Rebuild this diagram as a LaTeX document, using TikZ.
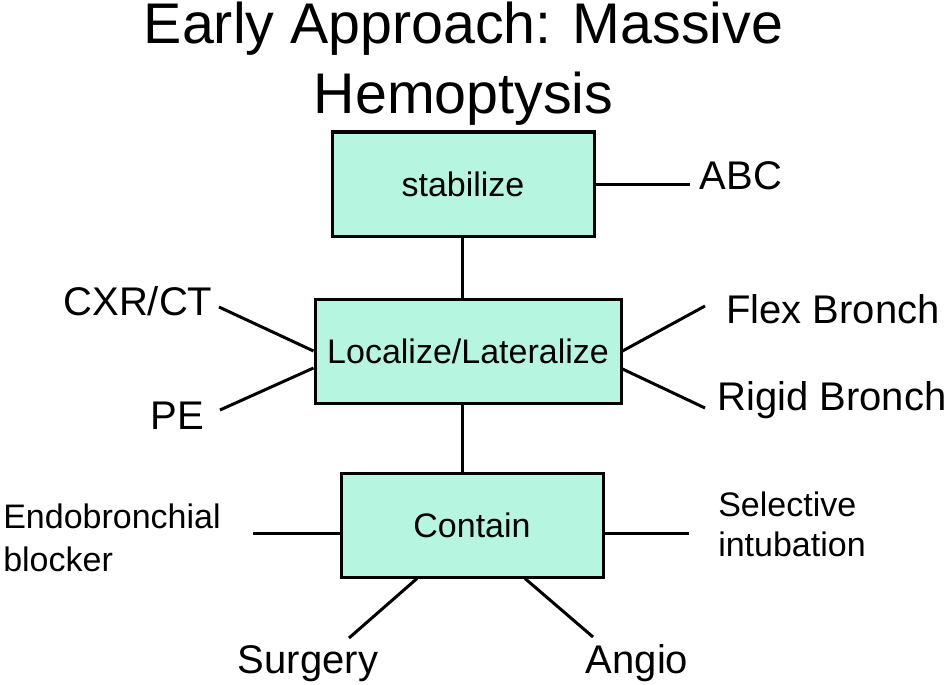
\documentclass[tikz,border=0pt]{standalone}
\usepackage{fontspec}
\setmainfont{Liberation Sans}
\usetikzlibrary{calc}
\definecolor{boxfill}{RGB}{182,245,224}
\begin{document}
\begin{tikzpicture}[x=0.75pt,y=-0.75pt,
  boxstyle/.style={draw=black, line width=2.25pt, fill=boxfill, minimum height=78pt, inner sep=0pt, font=\fontsize{25.5}{30}\selectfont},
  conn/.style={line width=2.25pt},
  lbl/.style={font=\fontsize{30}{36}\selectfont, inner sep=0pt, anchor=base},
  small/.style={font=\fontsize{25.5}{32}\selectfont, inner sep=0pt, align=left, anchor=north west},
  title/.style={font=\fontsize{43}{52}\selectfont, inner sep=0pt, align=center, anchor=north}]
\useasboundingbox (0,0) rectangle (950,685);
\node[title] (ttl) at (463.5,2) {Early Approach: Massive\\Hemoptysis};
\node[boxstyle, minimum width=196.5pt] (stab) at (463,184) {stabilize};
\node[boxstyle, minimum width=229.5pt] (loc) at (468,351) {Localize/Lateralize};
\node[boxstyle, minimum width=196.5pt] (cont) at (472,525) {Contain};
\node[lbl] (abc) at (741,189) {ABC};
\node[lbl] (cxr) at (138,315) {CXR/CT};
\node[lbl] (pe) at (177,429) {PE};
\node[lbl] (flex) at (833,323) {Flex Bronch};
\node[lbl] (rigid) at (832,410) {Rigid Bronch};
\node[lbl] (surg) at (308,673) {Surgery};
\node[lbl] (angio) at (637,673) {Angio};
\node[small] (endo) at (3,504) {Endobronchial\\blocker};
\node[small, font=\fontsize{25.5}{30}\selectfont] (sel) at (718,492) {Selective\\intubation};
\coordinate (eABC) at (690,184);
\coordinate (eCXR) at (219,307);
\coordinate (ePE) at (220,410);
\coordinate (eFlex) at (705,306);
\coordinate (eRigid) at (705,408);
\coordinate (eEndo) at (253,533);
\coordinate (eSel) at (689,533);
\coordinate (eSurg) at (349,638);
\coordinate (eAng) at (593,637);
\draw[conn] (stab.south -| 462,0) -- (loc.north -| 462,0);
\draw[conn] (loc.south -| 462,0) -- (cont.north -| 462,0);
\draw[conn] (stab.east) -- (eABC);
\draw[conn] (eCXR) -- (loc.west);
\draw[conn] (ePE) -- ($(loc.west)+(0,17)$);
\draw[conn] (loc.east) -- (eFlex);
\draw[conn] ($(loc.east)+(0,18)$) -- (eRigid);
\draw[conn] (eEndo) -- ($(cont.west)+(0,8)$);
\draw[conn] ($(cont.east)+(0,8)$) -- (eSel);
\draw[conn] ($(cont.south)+(-55,0)$) -- (eSurg);
\draw[conn] ($(cont.south)+(53,0)$) -- (eAng);
\end{tikzpicture}
\end{document}
